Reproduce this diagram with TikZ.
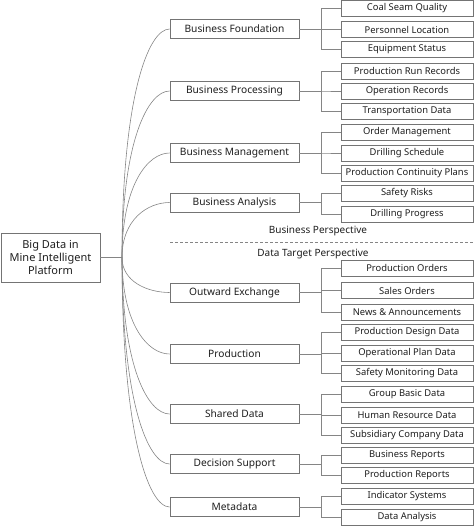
\documentclass[tikz,border=0pt]{standalone}
\usepackage{fontspec}
\setmainfont{Noto Sans}
\usetikzlibrary{calc}
\definecolor{linegray}{HTML}{858585}
\definecolor{boxgray}{HTML}{747474}
\definecolor{textgray}{HTML}{1E1E1E}

\tikzset{
  rootbox/.style={draw=boxgray,line width=0.7pt,minimum width=99pt,minimum height=49pt,
    inner sep=1pt,align=center,text=textgray,font=\fontsize{11}{13}\selectfont},
  midbox/.style={draw=boxgray,line width=0.7pt,minimum width=129pt,minimum height=19pt,
    inner sep=1pt,text=textgray,font=\fontsize{10.2}{12}\selectfont},
  leafbox/.style={draw=boxgray,line width=0.7pt,minimum width=132pt,minimum height=16pt,
    inner sep=1pt,text=textgray,font=\fontsize{9.4}{11}\selectfont},
  link/.style={draw=linegray,line width=0.6pt},
  viewlabel/.style={text=textgray,font=\fontsize{10}{12}\selectfont,inner sep=0pt}
}

\begin{document}
\begin{tikzpicture}[x=1pt,y=-1pt]
    \useasboundingbox (0,0) rectangle (474,526);
    % root and trunk
    \node[rootbox] (root) at (50.5,257.5) {Big Data in\\Mine Intelligent\\Platform};
    \coordinate (trunk) at (122,257.5);
    \draw[link] (root.east) -- (trunk);
    % second level
    \node[midbox] (bf) at (234.5,29) {Business Foundation};
    \node[midbox] (bp) at (234.5,91) {Business Processing};
    \node[midbox] (bm) at (234.5,153) {Business Management};
    \node[midbox] (ba) at (234.5,202.5) {Business Analysis};
    \node[midbox] (oe) at (234.5,292.5) {Outward Exchange};
    \node[midbox] (pr) at (234.5,354) {Production};
    \node[midbox] (sd) at (234.5,414) {Shared Data};
    \node[midbox] (ds) at (234.5,464) {Decision Support};
    \node[midbox] (md) at (234.5,507) {Metadata};
    \foreach \n/\y in {bf/29,bp/91,bm/153,ba/202.5,oe/292.5,pr/354,sd/414,ds/464,md/507}
      \draw[link] (trunk) .. controls (122,{\y+0.3*(257.5-\y)}) and (148,\y) .. (\n.west);
    % leaves
    \node[leafbox] (bf1) at (407,8.5) {Coal Seam Quality};
    \node[leafbox] (bf2) at (407,29.5) {Personnel Location};
    \node[leafbox] (bf3) at (407,49.5) {Equipment Status};
    \node[leafbox] (bp1) at (407,71) {Production Run Records};
    \node[leafbox] (bp2) at (407,91) {Operation Records};
    \node[leafbox] (bp3) at (407,111) {Transportation Data};
    \node[leafbox] (bm1) at (407,132) {Order Management};
    \node[leafbox] (bm2) at (407,153) {Drilling Schedule};
    \node[leafbox] (bm3) at (407,173.5) {Production Continuity Plans};
    \node[leafbox] (ba1) at (407,193.5) {Safety Risks};
    \node[leafbox] (ba2) at (407,214) {Drilling Progress};
    \node[leafbox] (oe1) at (407,268) {Production Orders};
    \node[leafbox] (oe2) at (407,290.5) {Sales Orders};
    \node[leafbox] (oe3) at (407,312) {News \& Announcements};
    \node[leafbox] (pr1) at (407,332) {Production Design Data};
    \node[leafbox] (pr2) at (407,353) {Operational Plan Data};
    \node[leafbox] (pr3) at (407,373) {Safety Monitoring Data};
    \node[leafbox] (sd1) at (407,394) {Group Basic Data};
    \node[leafbox] (sd2) at (407,415) {Human Resource Data};
    \node[leafbox] (sd3) at (407,435) {Subsidiary Company Data};
    \node[leafbox] (ds1) at (407,455) {Business Reports};
    \node[leafbox] (ds2) at (407,475) {Production Reports};
    \node[leafbox] (md1) at (407,496.5) {Indicator Systems};
    \node[leafbox] (md2) at (407,517.5) {Data Analysis};
    \foreach \m/\l in {bf/bf1,bf/bf2,bf/bf3,bp/bp1,bp/bp2,bp/bp3,bm/bm1,bm/bm2,bm/bm3,ba/ba1,ba/ba2,
        oe/oe1,oe/oe2,oe/oe3,pr/pr1,pr/pr2,pr/pr3,sd/sd1,sd/sd2,sd/sd3,ds/ds1,ds/ds2,md/md1,md/md2}
      \draw[link] (\m.east) -- ++(21.5,0) |- (\l.west);
    % perspectives
    \coordinate (sepl) at (170,242.5);
    \coordinate (sepr) at (474,242.5);
    \draw[link,dash pattern=on 3pt off 2pt] (sepl) -- (sepr);
    \node[viewlabel] (bview) at (318,231) {Business Perspective};
    \node[viewlabel] (dview) at (313,254) {Data Target Perspective};
  \end{tikzpicture}
\end{document}
